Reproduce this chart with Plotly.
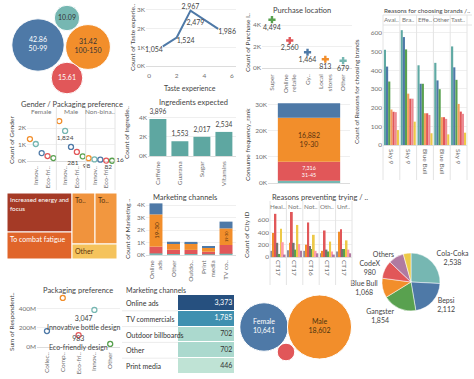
import plotly.graph_objects as go

W, H = 474, 379
FONT = "Lato"
TICKC = "#707070"
TXT = "#444444"
GRIDC = "#efefef"
BLUE = "#4e79a7"; ORANGE = "#f28e2b"; RED = "#e15759"; TEAL = "#76b7b2"
GREEN = "#59a14f"; YELLOW = "#edc948"; PURPLE = "#b07aa1"; PINK = "#ff9da7"

# ---------------- data ----------------
price_share = [42.86, 31.42, 15.61, 10.09]
price_band = ["50-99", "100-150", "", ""]

taste_score = [1, 2, 3, 4, 5]
taste_count = [1054, 1524, 2967, 2479, 1986]

purchase_place = ["Super", "Online<br>retaile", "Gy..", "Local<br>stores", "Other"]
purchase_count = [4494, 2560, 1464, 813, 679]

brand_groups = ["Avai..", "Bra..", "Effe..", "Other", "Tast.."]
brand_labels = ["Sky 9", "Sky 9", "Blue Bull", "Blue Bull", "Sky 9"]
brand_s1 = [510, 615, 427, 440, 528]
brand_s2 = [420, 578, 328, 346, 416]
brand_s3 = [340, 512, 328, 299, 349]
brand_s4 = [190, 275, 170, 149, 220]
brand_s5 = [178, 248, 170, 149, 179]
brand_s6 = [176, 248, 161, 140, 167]
brand_s7 = [80, 125, 63, 57, 66]

genders = ["Female", "Male", "Non-bina.."]
pack_order = ["Compact", "Innov..", "Collectible", "Eco-fri..", "Other"]
gender_female = [1330, 1030, 480, 300, 180]
gender_male = [2420, 1824, 850, 550, 281]
gender_nonbin = [170, 98, 82, 26, 16]

ingredients = ["Caffeine", "Guarana", "Sugar", "Vitamins"]
ingredient_count = [3896, 1553, 2017, 2534]

consume_groups = ["46+", "31-45", "19-30", "Under 19"]
consume_count = [900, 7316, 16882, 5545]

reasons = ["Increased energy and<br>focus", "To combat fatigue", "To..", "To..", "Other"]
reason_count = [2535, 1755, 1173, 1122, 675]

mk_channels = ["Online<br>ads", "Other", "Outdo..", "Print<br>media", "TV co.."]
mk_teal = [130, 80, 80, 60, 100]
mk_red = [540, 340, 330, 200, 700]
mk_orange = [2580, 520, 520, 330, 1330]
mk_blue = [880, 120, 120, 80, 540]

prevent_groups = ["Heal..", "Not..", "Not..", "Oth..", "Unf.."]
prevent_city = ["CT17", "CT17", "CT16", "CT17", "CT17"]
prevent_s1 = [100, 110, 100, 60, 90]
prevent_s2 = [390, 230, 200, 100, 410]
prevent_s3 = [700, 730, 560, 430, 450]
prevent_s4 = [230, 230, 180, 120, 130]
prevent_s5 = [50, 120, 130, 90, 130]
prevent_s6 = [460, 520, 360, 250, 270]
prevent_s7 = [240, 210, 100, 90, 120]
prevent_s8 = [40, 100, 60, 40, 60]

pack_cats = ["Collec..", "Comp..", "Eco-fri..", "Innov..", "Other"]
pack_sum = [168e6, 516e6, 125e6, 390e6, 32e6]

table_channels = ["Online ads", "TV commercials", "Outdoor billboards", "Other", "Print media"]
table_counts = [3373, 1785, 702, 702, 446]

gender_names = ["Female", "Male", "Non-binary"]
gender_counts = [10641, 18602, 1400]

pie_brands = ["Cola-Coka", "Bepsi", "Gangster", "Blue Bull", "CodeX", "Others", "Sky 9"]
pie_counts = [2538, 2112, 1854, 1068, 980, 850, 420]

# ---------------- helpers ----------------
fig = go.Figure()
L = {}
ANN = []
SHP = []


def names(i):
    return ("x" if i == 1 else f"x{i}", "y" if i == 1 else f"y{i}")


def axes(i, xpx, ypx, xr, yr, xkw=None, ykw=None):
    xn, yn = names(i)
    base = dict(showgrid=False, zeroline=False, showline=False, ticks="", fixedrange=True,
                tickfont=dict(size=6.5, color=TICKC, family=FONT))
    xa = dict(base, domain=[xpx[0] / W, xpx[1] / W], range=xr, anchor=yn)
    ya = dict(base, domain=[1 - ypx[1] / H, 1 - ypx[0] / H], range=yr, anchor=xn)
    if xkw:
        xa.update(xkw)
    if ykw:
        ya.update(ykw)
    L["xaxis" if i == 1 else f"xaxis{i}"] = xa
    L["yaxis" if i == 1 else f"yaxis{i}"] = ya
    return xn, yn


HID = dict(visible=False)
YG = dict(showgrid=True, gridcolor=GRIDC, gridwidth=1, zeroline=True, zerolinecolor="#dcdcdc", zerolinewidth=1)


def txt(xp, yp, s, size=7, color=TXT, xa="center", ya="middle", angle=0):
    ANN.append(dict(x=xp / W, y=1 - yp / H, xref="paper", yref="paper", text=s, showarrow=False,
                    font=dict(size=size, color=color, family=FONT), xanchor=xa, yanchor=ya,
                    textangle=angle))


def vline(xp, y0, y1, color="#e4e4e4"):
    SHP.append(dict(type="line", xref="paper", yref="paper", x0=xp / W, x1=xp / W,
                    y0=1 - y0 / H, y1=1 - y1 / H, line=dict(color=color, width=1)))


def hline(x0, x1, yp, color="#e4e4e4"):
    SHP.append(dict(type="line", xref="paper", yref="paper", x0=x0 / W, x1=x1 / W,
                    y0=1 - yp / H, y1=1 - yp / H, line=dict(color=color, width=1)))


def fmt(v):
    return f"{v:,}"


# ---------------- 1. price bubbles ----------------
bx, by = axes(1, (0, 120), (0, 95), [0, 120], [95, 0], HID, HID)
bub_px = [38, 88, 67, 67]
bub_py = [45, 47, 78, 18]
fig.add_trace(go.Scatter(
    x=bub_px, y=bub_py, mode="markers+text",
    marker=dict(size=price_share, sizemode="area", sizeref=1 / 32,
                color=[BLUE, ORANGE, RED, TEAL], line=dict(color="white", width=1), opacity=1),
    text=[f"{v:.2f}<br>{b}" if b else f"{v:.2f}" for v, b in zip(price_share, price_band)],
    textposition="middle center",
    textfont=dict(size=7, family=FONT, color=["white", "#333333", "white", "#333333"]),
    xaxis=bx, yaxis=by, hoverinfo="skip"))

# ---------------- 2. taste line ----------------
tx, ty = axes(2, (146, 236), (4, 70), [-0.22, 6.29], [-214, 3321],
              dict(tickvals=[0, 2, 4, 6]),
              dict(YG, tickvals=[0, 1000, 2000, 3000], ticktext=["0K", "1K", "2K", "3K"]))
fig.add_trace(go.Scatter(
    x=taste_score, y=taste_count, mode="lines+text", line=dict(color=BLUE, width=2),
    text=[fmt(v) for v in taste_count],
    textposition=["bottom left", "bottom right", "top center", "bottom left", "bottom right"],
    textfont=dict(size=7, color=TXT, family=FONT), cliponaxis=False, xaxis=tx, yaxis=ty))
txt(132, 37, "Count of Taste experie..", 6.5, angle=-90)
txt(190, 88, "Taste experience", 7)

# ---------------- 3. purchase location ----------------
px_, py_ = axes(3, (262, 352), (18, 72), [-0.56, 4.5], [-372, 4651],
                dict(tickvals=list(range(len(purchase_place))), ticktext=purchase_place, tickangle=-90),
                dict(YG, tickvals=[0, 2000, 4000], ticktext=["0K", "2K", "4K"]))
fig.add_trace(go.Scatter(
    x=list(range(len(purchase_place))), y=purchase_count, mode="markers+text",
    marker=dict(symbol="cross", size=6, color=[GREEN, RED, BLUE, ORANGE, TEAL]),
    text=[fmt(v) for v in purchase_count], textposition="bottom center",
    textfont=dict(size=7, color=TXT, family=FONT), cliponaxis=False, xaxis=px_, yaxis=py_))
txt(302, 10, "Purchase location", 7.5)
txt(247, 42, "Count of Purchase l..", 6.5, angle=-90)

# ---------------- 4. reasons for choosing brands ----------------
rx, ry = axes(4, (383, 467), (27, 148), [-0.5, 4.5], [-16, 632],
              dict(tickvals=list(range(5)), ticktext=brand_labels, tickangle=90),
              dict(YG, tickvals=[0, 100, 200, 300, 400, 500, 600]))
brand_series = [brand_s1, brand_s2, brand_s3, brand_s4, brand_s5, brand_s6, brand_s7]
brand_colors = ["#5fa9a3", BLUE, GREEN, "#f4a15d", RED, "#ec8a93", YELLOW]
for s, c in zip(brand_series, brand_colors):
    fig.add_trace(go.Bar(x=list(range(5)), y=s, marker=dict(color=c, line=dict(width=0)),
                         xaxis=rx, yaxis=ry, hoverinfo="skip"))
txt(382, 10, "Reasons for choosing brands /..", 6.3, xa="left")
for k, g in enumerate(brand_groups):
    txt(383 + (k + 0.5) * 84 / 5, 20, g, 6.3, color="#777777")
for k in range(6):
    vline(383 + k * 84 / 5, 15, 180)
hline(383, 472, 15)
hline(383, 472, 25)
txt(357, 92, "Count of Reasons for choosing brands", 6.3, angle=-90)

# ---------------- 5. gender / packaging ----------------
gx, gy = axes(5, (27, 115), (115, 164), [-0.5, 14.5], [-182, 2788],
              dict(tickvals=[f * 5 + j for f in range(3) for j in (1, 3)],
                   ticktext=[pack_order[j] for f in range(3) for j in (1, 3)], tickangle=-90),
              dict(YG, tickvals=[0, 1000, 2000], ticktext=["0K", "1K", "2K"]))
pack_colors = [ORANGE, TEAL, BLUE, RED, GREEN]
gender_vals = [gender_female, gender_male, gender_nonbin]
show = [[0, 0, 0, 0, 0], [0, 1, 0, 0, 1], [0, 1, 1, 0, 1]]
tpos = [["bottom center"] * 5,
        ["bottom center", "bottom center", "bottom center", "bottom center", "bottom left"],
        ["bottom center", "bottom left", "bottom right", "bottom center", "middle right"]]
gpx, gpy, gpc, gpt, gpp = [], [], [], [], []
for f, vals in enumerate(gender_vals):
    for j, v in enumerate(vals):
        gpx.append(f * 5 + j)
        gpy.append(v)
        gpc.append(pack_colors[j])
        gpt.append(fmt(v) if show[f][j] else "")
        gpp.append(tpos[f][j])
fig.add_trace(go.Scatter(
    x=gpx, y=gpy, mode="markers+text",
    marker=dict(symbol="circle-open", size=5, color=gpc, line=dict(width=1.3)),
    text=gpt, textposition=gpp, textfont=dict(size=6.5, color=TXT, family=FONT),
    cliponaxis=False, xaxis=gx, yaxis=gy))
txt(72, 104, "Gender / Packaging preference", 7.5)
for k, g in enumerate(genders):
    txt(27 + (k + 0.5) * 88 / 3, 112, g, 6.5, color="#777777")
for k in range(1, 4):
    vline(27 + k * 88 / 3, 107, 190)
txt(11, 140, "Count of Gender", 6.5, angle=-90)

# ---------------- 6. ingredients ----------------
ix, iy = axes(6, (148, 236), (108, 159), [-0.45, 3.55], [-316, 5050],
              dict(tickvals=list(range(4)), ticktext=ingredients, tickangle=-90),
              dict(YG, tickvals=[0, 2000, 4000], ticktext=["0K", "2K", "4K"]))
fig.add_trace(go.Bar(x=list(range(4)), y=ingredient_count, width=0.77,
                     marker=dict(color="#5ea7a1", line=dict(width=0)),
                     text=[fmt(v) for v in ingredient_count], textposition="outside",
                     textfont=dict(size=7, color=TXT, family=FONT), cliponaxis=False,
                     xaxis=ix, yaxis=iy, offsetgroup="ing"))
txt(193, 102, "Ingredients expected", 7.5)
txt(127, 133, "Count of Ingredie..", 6.5, angle=-90)

# ---------------- 7. consume frequency ----------------
cx, cy = axes(7, (268, 350), (100, 186), [-0.5, 0.5], [-1150, 31900],
              dict(showticklabels=False),
              dict(YG, tickvals=[0, 10000, 20000, 30000], ticktext=["0K", "10K", "20K", "30K"]))
consume_colors = [TEAL, RED, ORANGE, BLUE]
consume_text = ["", f"{fmt(consume_count[1])}<br>{consume_groups[1]}",
                f"{fmt(consume_count[2])}<br>{consume_groups[2]}", ""]
consume_tc = ["#333333", "white", "#5a3410", "white"]
acc = 0
for v, c, t, tc in zip(consume_count, consume_colors, consume_text, consume_tc):
    fig.add_trace(go.Bar(x=[0], y=[v], base=[acc], width=0.76, offsetgroup="cons",
                         marker=dict(color=c, line=dict(width=0)), text=[t],
                         textposition="inside", insidetextanchor="middle", textangle=0,
                         textfont=dict(size=7, color=tc, family=FONT), xaxis=cx, yaxis=cy))
    acc += v
txt(248, 145, "Consume frequency_rank", 6.5, angle=-90)

# ---------------- 8. treemap ----------------
fig.add_trace(go.Treemap(
    ids=["root"] + [f"r{k}" for k in range(len(reasons))], labels=[""] + reasons,
    parents=[""] + ["root"] * len(reasons), values=[0] + reason_count, sort=True,
    branchvalues="remainder",
    domain=dict(x=[7 / W, 117 / W], y=[1 - 259 / H, 1 - 193 / H]),
    marker=dict(colors=["white", "#a53a26", "#e0652a", "#f0933d", "#f2973f", "#f5c35c"],
                line=dict(color="white", width=1), pad=dict(t=0, l=0, r=0, b=0)),
    tiling=dict(packing="squarify", squarifyratio=1.618, pad=0),
    pathbar=dict(visible=False), textinfo="label", textposition="top left",
    textfont=dict(size=7, family=FONT, color=["white", "white", "white", "#5a3410", "#5a3410", "#5a3410"]),
    hoverinfo="skip"))

# ---------------- 9. marketing channels stacked ----------------
mx, my = axes(8, (146, 236), (200, 258), [-0.57, 4.57], [-240, 4400],
              dict(tickvals=list(range(5)), ticktext=mk_channels, tickangle=-90),
              dict(YG, tickvals=[0, 1000, 2000, 3000, 4000], ticktext=["0K", "1K", "2K", "3K", "4K"]))
mk_series = [mk_teal, mk_red, mk_orange, mk_blue]
mk_colors = [TEAL, RED, ORANGE, BLUE]
mk_text = [None, None, ["19-30", "", "", "", "19-30"], None]
base = [0] * 5
for s, c, t in zip(mk_series, mk_colors, mk_text):
    fig.add_trace(go.Bar(x=list(range(5)), y=s, base=list(base), width=0.74, offsetgroup="mk",
                         marker=dict(color=c, line=dict(width=0)), text=t,
                         textposition="inside", insidetextanchor="middle", textangle=-90,
                         textfont=dict(size=7, color="#5a3410", family=FONT), xaxis=mx, yaxis=my))
    base = [b + v for b, v in zip(base, s)]
txt(185, 197, "Marketing channels", 7.5)
txt(127, 229, "Count of Marketing ..", 6.5, angle=-90)

# ---------------- 10. reasons preventing trying ----------------
qx, qy = axes(9, (270, 352), (210, 259), [-0.5, 4.5], [-32, 762],
              dict(tickvals=list(range(5)), ticktext=prevent_city, tickangle=90),
              dict(YG, tickvals=[0, 200, 400, 600]))
prevent_series = [prevent_s1, prevent_s2, prevent_s3, prevent_s4, prevent_s5, prevent_s6, prevent_s7, prevent_s8]
prevent_colors = ["#8d8d9a", ORANGE, RED, "#79706e", GREEN, YELLOW, PINK, PURPLE]
for s, c in zip(prevent_series, prevent_colors):
    fig.add_trace(go.Bar(x=list(range(5)), y=s, marker=dict(color=c, line=dict(width=0)),
                         xaxis=qx, yaxis=qy, hoverinfo="skip"))
txt(270, 197, "Reasons preventing trying / ..", 7.5, xa="left")
for k, g in enumerate(prevent_groups):
    txt(270 + (k + 0.5) * 82 / 5, 206, g, 6.3, color="#777777")
for k in range(6):
    vline(270 + k * 82 / 5, 201, 285)
txt(246, 235, "Count of City ID", 6.5, angle=-90)

# ---------------- 11. packaging preference scatter ----------------
kx, ky = axes(10, (37, 120), (295, 350), [-0.63, 4.62], [-31.6e6, 547e6],
              dict(tickvals=list(range(5)), ticktext=pack_cats, tickangle=-90),
              dict(YG, tickvals=[0, 200e6, 400e6], ticktext=["0M", "200M", "400M"]))
fig.add_trace(go.Scatter(
    x=list(range(5)), y=pack_sum, mode="markers",
    marker=dict(symbol="circle-open", size=5, color=[BLUE, ORANGE, RED, TEAL, GREEN], line=dict(width=1.3)),
    cliponaxis=False, xaxis=kx, yaxis=ky))
pack_labels = {3: "3,047<br>Innovative bottle design", 2: "983<br>Eco-friendly design"}
for k, s in pack_labels.items():
    ANN.append(dict(x=k, y=pack_sum[k], xref=kx, yref=ky, text=s, showarrow=False,
                    font=dict(size=7, color=TXT, family=FONT), xanchor="center", yanchor="top",
                    xshift=-10 if k == 3 else 0, yshift=-2 if k == 3 else 3))
txt(78, 290, "Packaging preference", 7.5)
txt(11, 322, "Sum of Respondent..", 6.5, angle=-90)

# ---------------- 12. marketing channels table ----------------
hx, hy = axes(11, (178, 234), (295, 374), [-0.5, 0.5], [4.5, -0.5], HID, HID)
fig.add_trace(go.Heatmap(
    z=[[v] for v in table_counts], x=[0], y=list(range(5)), zmin=446, zmax=3373,
    colorscale=[[0, "#bfe3d5"], [0.1, "#a8d7cd"], [0.45, "#3f91b1"], [1, "#26507f"]],
    showscale=False, ygap=1, xaxis=hx, yaxis=hy, hoverinfo="skip"))
fig.add_trace(go.Scatter(
    x=[0.47] * 5, y=list(range(5)), mode="text", text=[fmt(v) for v in table_counts],
    textposition="middle left",
    textfont=dict(size=7, family=FONT, color=["white", "white", "#333333", "#333333", "#333333"]),
    xaxis=hx, yaxis=hy, hoverinfo="skip"))
for k, ch in enumerate(table_channels):
    ANN.append(dict(x=124 / W, y=k, xref="paper", yref=hy, text=ch, showarrow=False,
                    font=dict(size=7, color="#333333", family=FONT), xanchor="left", yanchor="middle"))
txt(124, 290, "Marketing channels", 7, xa="left")
for k in range(1, 5):
    hline(122, 178, 295 + k * 79 / 5, "#ececec")

# ---------------- 13. gender bubbles ----------------
ex, ey = axes(12, (240, 360), (280, 379), [240, 360], [379, 280], HID, HID)
gb_px = [264, 319.5, 286]
gb_py = [327, 327, 352]
fig.add_trace(go.Scatter(
    x=gb_px, y=gb_py, mode="markers+text",
    marker=dict(size=gender_counts, sizemode="area", sizeref=9.06,
                color=[BLUE, ORANGE, RED], line=dict(color="white", width=1), opacity=1),
    text=[f"{gender_names[0]}<br>{fmt(gender_counts[0])}", f"{gender_names[1]}<br>{fmt(gender_counts[1])}", ""],
    textposition="middle center",
    textfont=dict(size=7, family=FONT, color=["white", "#4a3410", "white"]),
    xaxis=ex, yaxis=ey, hoverinfo="skip"))

# ---------------- 14. pie ----------------
fig.add_trace(go.Pie(
    labels=pie_brands, values=pie_counts, sort=False, direction="clockwise", rotation=0,
    domain=dict(x=[382 / W, 440 / W], y=[1 - 311 / H, 1 - 253 / H]),
    marker=dict(colors=[TEAL, BLUE, GREEN, ORANGE, RED, PURPLE, YELLOW], line=dict(color="white", width=0.5)),
    texttemplate=["%{label}<br>%{value:,}"] * 5 + ["%{label}", ""],
    textposition="outside", textfont=dict(size=7, color=TXT, family=FONT),
    showlegend=False, hoverinfo="skip"))

fig.update_layout(
    width=W, height=H, margin=dict(l=0, r=0, t=0, b=0),
    paper_bgcolor="white", plot_bgcolor="white", showlegend=False,
    barmode="group", bargap=0.1, bargroupgap=0,
    font=dict(family=FONT, size=7, color=TXT),
    annotations=ANN, shapes=SHP, **L)

fig.write_html("out.html", config={"displayModeBar": False},
               post_script="document.body.style.margin='0';document.body.style.padding='0';"
                           "document.documentElement.style.overflow='hidden';")
